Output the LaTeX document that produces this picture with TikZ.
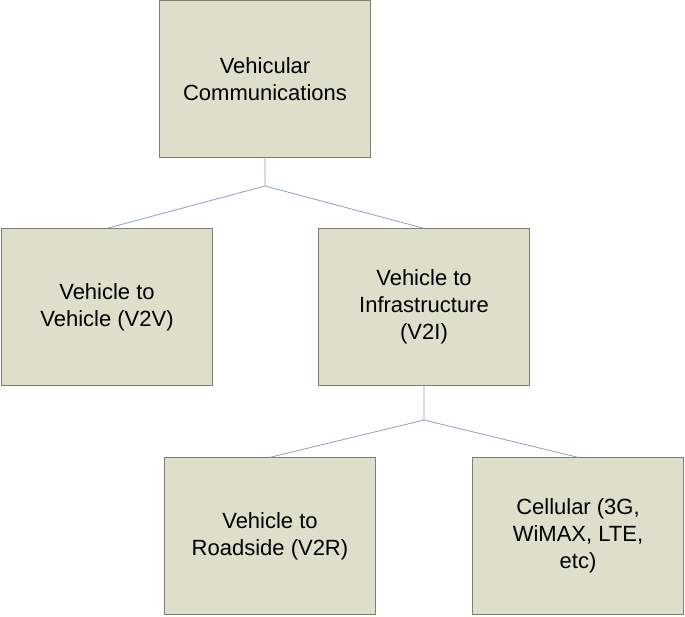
\documentclass[tikz,border=0pt]{standalone}
\usepackage{fontspec}
\setmainfont{Liberation Sans}
\usetikzlibrary{positioning}
\definecolor{boxfill}{HTML}{DDDFCB}
\definecolor{boxline}{HTML}{7F7F6E}
\definecolor{link}{HTML}{8EA0B8}
\begin{document}
\begin{tikzpicture}[x=1pt, y=-1pt,
  box/.style = {draw=boxline, fill=boxfill, minimum width=211pt, minimum height=157pt,
    align=center, font=\fontsize{22}{27}\selectfont, inner sep=0pt},
  link/.style = {draw=link, line width=0.8pt}]
  \useasboundingbox (0,0) rectangle (685,616);
  \node[box] (vc)   at (265,79)  {Vehicular\\Communications};
  \node[box] (v2v)  at (107,307) {Vehicle to\\Vehicle (V2V)};
  \node[box] (v2i)  at (424,307) {Vehicle to\\Infrastructure\\(V2I)};
  \node[box] (v2r)  at (270,536) {Vehicle to\\Roadside (V2R)};
  \node[box] (cell) at (578,536) {Cellular (3G,\\WiMAX, LTE,\\etc)};
  \coordinate (j1) at (265,186);
  \coordinate (j2) at (424,420);
  \path[link]
    (vc) -- (j1) -- (v2v.north)
    (j1) -- (v2i.north)
    (v2i) -- (j2) -- (v2r.north)
    (j2) -- (cell.north);
\end{tikzpicture}
\end{document}
